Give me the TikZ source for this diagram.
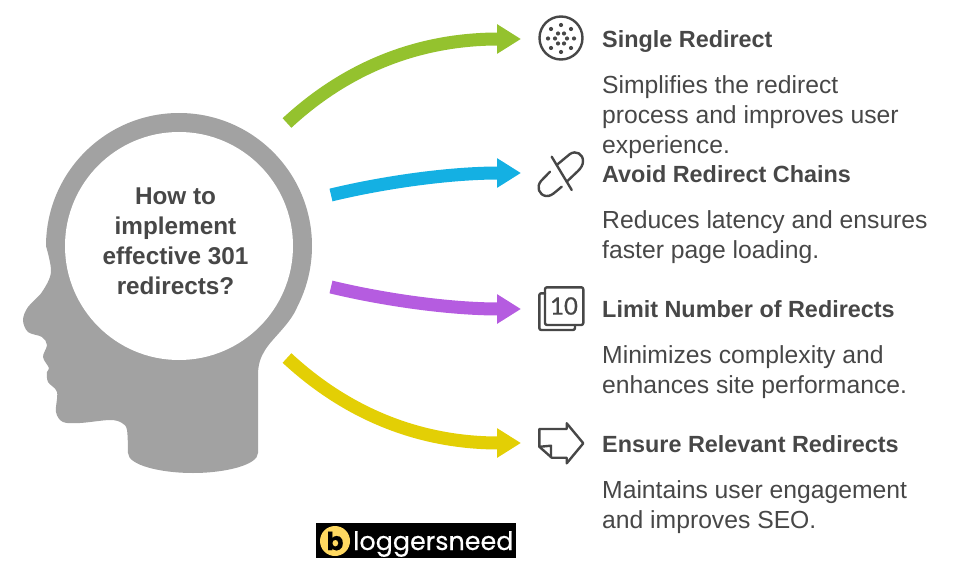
\documentclass[tikz,border=0pt]{standalone}
\usepackage{fontspec}
\setmainfont{Liberation Sans}
\newfontfamily\logofont[FakeBold=0.4]{Poppins}
\newfontfamily\iconfont[FakeBold=0.6]{Lato}
\usetikzlibrary{arrows.meta}
\definecolor{headgrey}{rgb}{0.635, 0.635, 0.635}
\definecolor{inkgrey}{rgb}{0.28, 0.28, 0.28}
\definecolor{leafgreen}{rgb}{0.58, 0.76, 0.18}
\definecolor{skyblue}{rgb}{0.08, 0.69, 0.89}
\definecolor{orchid}{rgb}{0.71, 0.36, 0.88}
\definecolor{mustard}{rgb}{0.89, 0.81, 0.02}
\definecolor{logoyellow}{rgb}{1.0, 0.85, 0.38}
\tikzset{
	flow/.style={line width=13pt, -{Triangle[length=24pt, width=28pt]}},
	heading/.style={anchor=base west, inner sep=0pt, text=inkgrey, font=\fontsize{23.4}{30}\selectfont\bfseries},
	blurb/.style={anchor=north west, inner sep=0pt, align=left, text=inkgrey, font=\fontsize{24.7}{30}\selectfont},
	icon/.style={draw=inkgrey, line width=2.4pt, line join=round, line cap=round}
}

\begin{document}
\begin{tikzpicture}[x=1pt, y=-1pt]
	\useasboundingbox (0,0) rectangle (959,575);

	% head
	\fill[headgrey] (46,246) arc[start angle=180, end angle=387, radius=133]
		.. controls (290,325) and (270,340) .. (264,352)
		.. controls (259,360) and (258,368) .. (258,376)
		-- (258,453)
		.. controls (258,465) and (225,473) .. (193,473)
		.. controls (160,473) and (128,465) .. (128,453)
		-- plot[smooth, tension=0.55] coordinates {(128,453) (127,430) (122,423) (110,420) (80,423) (63,422) (56,412) (57,392) (48,382) (47,372) (49,368) (43,357) (47,345) (42,337) (28,332) (23,320) (28,307) (42,292) (51,272) (46,246)}
		-- cycle;
	\node[circle, fill=white, inner sep=0pt, minimum size=228pt] (brain) at (179,246) {};
	\node[align=center, inner sep=0pt, text=inkgrey, font=\fontsize{24.3}{30}\selectfont\bfseries] (question) at (175.5,241) {How to\\implement\\effective 301\\redirects?};

	% arrows
	\coordinate (singlefrom) at (287,123);
	\coordinate (singleto) at (521,39);
	\coordinate (chainsfrom) at (331,195);
	\coordinate (chainsto) at (521,173);
	\coordinate (limitfrom) at (331,287);
	\coordinate (limitto) at (521,309);
	\coordinate (relevantfrom) at (287,358);
	\coordinate (relevantto) at (521,443);
	\draw[flow, leafgreen] (singlefrom) .. controls (355,60) and (430,39) .. (singleto);
	\draw[flow, skyblue] (chainsfrom) .. controls (385,182) and (450,173) .. (chainsto);
	\draw[flow, orchid] (limitfrom) .. controls (385,300) and (450,309) .. (limitto);
	\draw[flow, mustard] (relevantfrom) .. controls (355,421) and (430,443) .. (relevantto);

	% {Single Redirect}
	\draw[icon] (561,38) circle (21.5pt);
	\fill[inkgrey] (561,25) circle (2.1pt);
	\fill[inkgrey] (551,29) circle (2.1pt);
	\fill[inkgrey] (571,29) circle (2.1pt);
	\fill[inkgrey] (548,38.5) circle (2.1pt);
	\fill[inkgrey] (574,38.5) circle (2.1pt);
	\fill[inkgrey] (551,48) circle (2.1pt);
	\fill[inkgrey] (571,48) circle (2.1pt);
	\fill[inkgrey] (561,52) circle (2.1pt);
	\fill[inkgrey] (558,33.5) circle (2.1pt);
	\fill[inkgrey] (564,33.5) circle (2.1pt);
	\fill[inkgrey] (555,38.5) circle (2.1pt);
	\fill[inkgrey] (567,38.5) circle (2.1pt);
	\fill[inkgrey] (558,43.5) circle (2.1pt);
	\fill[inkgrey] (564,43.5) circle (2.1pt);
	\node[heading] (singletitle) at (602,47.5) {Single Redirect};
	\node[blurb] (singletext) at (602,75) {Simplifies the redirect\\process and improves user\\experience.};

	% {Avoid Redirect Chains}
	\draw[icon] (551.7,156.7) -- (571.7,190);
	\draw[icon] (556.7,165) -- (570,154) .. controls (576,150) and (583,154) .. (583,161) .. controls (583,165) and (581,168) .. (578,171) -- (566.7,181.7);
	\draw[icon] (550,171.7) -- (541,181) .. controls (536,187) and (539,195) .. (546,196) .. controls (550,196.5) and (553,194) .. (556,191.5) -- (561.7,186.7);
	\node[heading] (chainstitle) at (602,182.3) {Avoid Redirect Chains};
	\node[blurb] (chainstext) at (602,210) {Reduces latency and ensures\\faster page loading.};

	% {Limit Number of Redirects}
	\draw[icon, rounded corners=2pt] (545,287.3) rectangle (583.3,325);
	\draw[icon, rounded corners=2pt] (545,293.3) -- (539.3,293.3) -- (539.3,330) -- (575,330) -- (575,325);
	\node[inner sep=0pt, text=inkgrey, font=\fontsize{24}{24}\selectfont\iconfont] (limitcount) at (564,306) {10};
	\node[heading] (limittitle) at (602,317.3) {Limit Number of Redirects};
	\node[blurb] (limittext) at (602,345) {Minimizes complexity and\\enhances site performance.};

	% {Ensure Relevant Redirects}
	\draw[icon] (539.3,429) -- (566.7,429) -- (566.7,423.3) -- (583.3,443.3) -- (566.7,463.3) -- (566.7,457.7) -- (551.7,457.7) -- (539.3,446.7) -- cycle;
	\draw[icon] (540.5,446.7) -- (551,445.7) -- (551,457);
	\node[heading] (relevanttitle) at (602,452.3) {Ensure Relevant Redirects};
	\node[blurb] (relevanttext) at (602,480) {Maintains user engagement\\and improves SEO.};

	% logo
	\fill[black] (316,523) rectangle (516,558);
	\fill[logoyellow] (335,541) circle (15pt);
	\node[inner sep=0pt, text=black, font=\fontsize{25}{25}\selectfont\logofont\bfseries] (logob) at (335,541) {b};
	\node[anchor=base west, inner sep=0pt, text=white, font=\fontsize{25.4}{25.4}\selectfont\logofont] (logoname) at (353,550) {loggersneed};
\end{tikzpicture}
\end{document}
